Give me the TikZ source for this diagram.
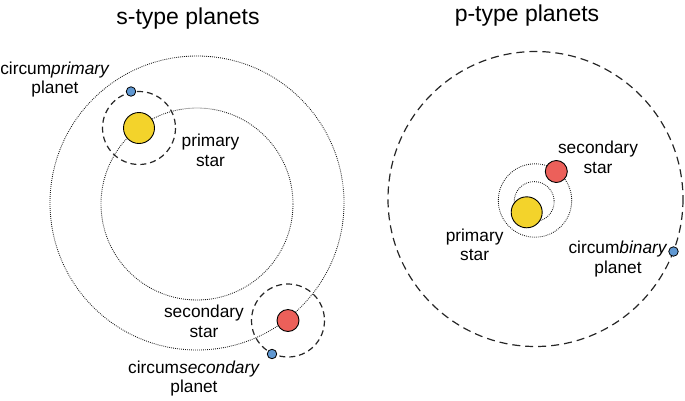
\documentclass[tikz,border=0pt]{standalone}
\usepackage{fontspec}
\setmainfont{Liberation Sans}
\definecolor{staryellow}{RGB}{243,211,43}
\definecolor{starred}{RGB}{236,96,90}
\definecolor{planetblue}{RGB}{96,152,210}
\begin{document}
\begin{tikzpicture}[x=1pt,y=-1pt,
  orbit/.style={draw=black!90, line width=0.85pt, dash pattern=on 0.85pt off 1.15pt},
  ring/.style={draw=black!85, line width=1.2pt, dash pattern=on 6pt off 4pt},
  bigring/.style={draw=black!85, line width=1.2pt, dash pattern=on 8pt off 5pt},
  starA/.style={circle, draw=black, line width=0.9pt, inner sep=0pt, fill=staryellow, minimum size=31pt},
  starB/.style={circle, draw=black, line width=0.9pt, inner sep=0pt, fill=starred, minimum size=22pt},
  planet/.style={circle, draw=black, line width=0.8pt, inner sep=0pt, fill=planetblue, minimum size=9.5pt},
  lbl/.style={align=center, inner sep=0pt, font=\fontsize{17.3}{19.5}\selectfont},
  ttl/.style={inner sep=0pt, font=\fontsize{23}{26}\selectfont}
]
\path[use as bounding box] (0,0) rectangle (685,400);

% titles
\node[ttl] (t1) at (188,19) {s-type planets};
\node[ttl] (t2) at (527,15.5) {p-type planets};

% ---------- s-type ----------
\draw[orbit] (197,203) circle (147);
\draw[orbit] (197,204) circle (96);
\draw[ring] (139,128) circle (36.5);
\draw[ring] (288,320.5) circle (36.5);

\node[starA] (ps1) at (139,128) {};
\node[starB] (ss1) at (288,320.5) {};
\node[planet] (cp) at (131,91.5) {};
\node[planet] (cs) at (272,354) {};

\node[lbl] (lcp) at (55,79.5) {circum\textit{primary}\\planet};
\node[lbl] (lps1) at (210.5,150.5) {primary\\star};
\node[lbl] (lss1) at (204,321.5) {secondary\\star};
\node[lbl] (lcs) at (194,378.5) {circum\textit{secondary}\\planet};

% ---------- p-type ----------
\draw[bigring] (535.5,199) circle (147.5);
\draw[orbit] (535,200.5) circle (36.7);
\draw[orbit] (534.2,201.6) circle (20);

\node[starA] (ps2) at (526.7,212.3) {};
\node[starB] (ss2) at (556.3,171.5) {};
\node[planet] (cb) at (673.5,251.5) {};

\node[lbl] (lss2) at (598,157.5) {secondary\\star};
\node[lbl] (lps2) at (474.6,245) {primary\\star};
\node[lbl] (lcb) at (618,259) {circum\textit{binary}\\planet};
\end{tikzpicture}
\end{document}
